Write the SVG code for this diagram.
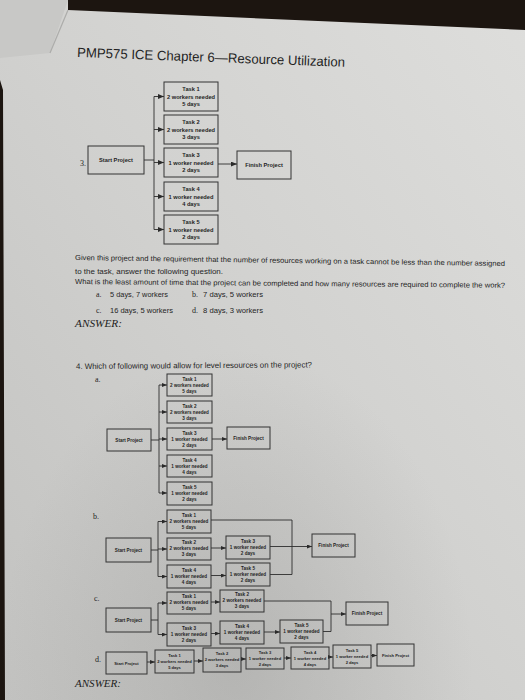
<svg xmlns="http://www.w3.org/2000/svg" width="525" height="700" viewBox="0 0 525 700">
<defs>
  <linearGradient id="paper" x1="1" y1="0" x2="0" y2="1">
    <stop offset="0" stop-color="#dededc"/>
    <stop offset="0.5" stop-color="#d1d1cf"/>
    <stop offset="1" stop-color="#c2c2c0"/>
  </linearGradient>
  <radialGradient id="shade" cx="0.45" cy="0.95" r="0.45">
    <stop offset="0" stop-color="#8e8e8c" stop-opacity="0.35"/>
    <stop offset="1" stop-color="#8e8e8c" stop-opacity="0"/>
  </radialGradient>
  <marker id="arr" viewBox="0 0 10 8" refX="10" refY="4" markerWidth="6" markerHeight="5" markerUnits="userSpaceOnUse" orient="auto">
    <path d="M0,0 L10,4 L0,8 Z" fill="#2a2a2a"/>
  </marker>
  <marker id="arrs" viewBox="0 0 10 8" refX="10" refY="4" markerWidth="5" markerHeight="4" markerUnits="userSpaceOnUse" orient="auto">
    <path d="M0,0 L10,4 L0,8 Z" fill="#2a2a2a"/>
  </marker>
  <style>
    .bx{fill:none;stroke:#333;stroke-width:1}
    .ln{fill:none;stroke:#2e2e2e;stroke-width:0.9}
    .a{marker-end:url(#arr)}
    .as{marker-end:url(#arrs)}
    text{font-family:"Liberation Sans",Arial,sans-serif;fill:#1f1f1f}
    .n6{font-size:5.7px;text-anchor:middle;font-weight:bold}
    .n5{font-size:4.6px;text-anchor:middle;font-weight:bold}
    .n4{font-size:4.1px;text-anchor:middle;font-weight:bold}
    .q{font-size:8px}
    .ql{font-size:7.3px}
    .ser{font-family:"Liberation Serif","Times New Roman",serif}
    .ans{font-family:"Liberation Serif","Times New Roman",serif;font-style:italic;font-size:10px}
  </style>
</defs>

<!-- background photo -->
<rect x="0" y="0" width="525" height="700" fill="#1c1510"/>
<path d="M0,0 L68,0 L68,10 L525,30 L525,700 L5,700 L3,90 L0,80 Z" fill="url(#paper)"/>
<path d="M0,0 L68,0 L50,53 L0,58 Z" fill="#c8c8c6"/>
<path d="M68,10 L50,53" stroke="#acacaa" stroke-width="1.2" fill="none"/>
<rect x="0" y="0" width="525" height="700" fill="url(#shade)"/>

<!-- title -->
<text x="77" y="57" font-size="13.5" textLength="268" lengthAdjust="spacingAndGlyphs" transform="rotate(2.1 77 57)">PMP575 ICE Chapter 6—Resource Utilization</text>

<!-- Question 3 -->
<text x="80" y="166" font-size="8" class="ser">3.</text>

<g id="connectors-q3">
  <path class="ln" d="M144,160 H154"/>
  <path class="ln" d="M154,96.5 V229.5"/>
  <path class="ln a" d="M154,96.5 H164"/>
  <path class="ln a" d="M154,129.5 H164"/>
  <path class="ln a" d="M154,162.5 H164"/>
  <path class="ln a" d="M154,196.5 H164"/>
  <path class="ln a" d="M154,229.5 H164"/>
  <path class="ln a" d="M218,164 H237"/>
</g>
<g id="q3-start"><rect class="bx" x="88" y="146" width="56" height="28"/><text class="n6" x="116" y="162">Start Project</text></g>
<g id="q3-task1"><rect class="bx" x="164" y="82" width="54" height="29"/><text class="n6" x="191" y="91">Task 1</text><text class="n6" x="191" y="98.5">2 workers needed</text><text class="n6" x="191" y="105.5">5 days</text></g>
<g id="q3-task2"><rect class="bx" x="164" y="115" width="54" height="29"/><text class="n6" x="191" y="124">Task 2</text><text class="n6" x="191" y="131.5">2 workers needed</text><text class="n6" x="191" y="138.5">3 days</text></g>
<g id="q3-task3"><rect class="bx" x="164" y="148" width="54" height="29"/><text class="n6" x="191" y="157">Task 3</text><text class="n6" x="191" y="164.5">1 worker needed</text><text class="n6" x="191" y="171.5">2 days</text></g>
<g id="q3-task4"><rect class="bx" x="164" y="182" width="54" height="29"/><text class="n6" x="191" y="191">Task 4</text><text class="n6" x="191" y="198.5">1 worker needed</text><text class="n6" x="191" y="205.5">4 days</text></g>
<g id="q3-task5"><rect class="bx" x="164" y="215" width="54" height="29"/><text class="n6" x="191" y="224">Task 5</text><text class="n6" x="191" y="231.5">1 worker needed</text><text class="n6" x="191" y="238.5">2 days</text></g>
<g id="q3-finish"><rect class="bx" x="237" y="151" width="54" height="28"/><text class="n6" x="264" y="167">Finish Project</text></g>

<text class="ql" x="75" y="260" textLength="430" lengthAdjust="spacingAndGlyphs" transform="rotate(0.8 75 260)">Given this project and the requirement that the number of resources working on a task cannot be less than the number assigned</text>
<text class="q" x="75" y="274" textLength="148" lengthAdjust="spacingAndGlyphs">to the task, answer the following question.</text>
<text class="ql" x="75" y="284" textLength="430" lengthAdjust="spacingAndGlyphs" transform="rotate(0.5 75 284)">What is the least amount of time that the project can be completed and how many resources are required to complete the work?</text>
<text class="q" x="96" y="297"><tspan class="ser">a.</tspan> <tspan x="110" textLength="58" lengthAdjust="spacingAndGlyphs">5 days, 7 workers</tspan></text>
<text class="q" x="192" y="297"><tspan class="ser">b.</tspan> <tspan x="203" textLength="60" lengthAdjust="spacingAndGlyphs">7 days, 5 workers</tspan></text>
<text class="q" x="96" y="313"><tspan class="ser">c.</tspan> <tspan x="110" textLength="63" lengthAdjust="spacingAndGlyphs">16 days, 5 workers</tspan></text>
<text class="q" x="192" y="313"><tspan class="ser">d.</tspan> <tspan x="203" textLength="60" lengthAdjust="spacingAndGlyphs">8 days, 3 workers</tspan></text>
<text class="ans" x="75" y="327" textLength="47" lengthAdjust="spacingAndGlyphs">ANSWER:</text>

<!-- Question 4 -->
<text class="q" x="76" y="369" textLength="236" lengthAdjust="spacingAndGlyphs" transform="rotate(-0.4 76 369)">4. Which of following would allow for level resources on the project?</text>

<!-- option a -->
<text x="95" y="382" font-size="8" class="ser">a.</text>
<g id="connectors-a">
  <path class="ln" d="M151,440 H159"/>
  <path class="ln" d="M159,385 V493"/>
  <path class="ln as" d="M159,385 H167"/>
  <path class="ln as" d="M159,412 H167"/>
  <path class="ln as" d="M159,439 H167"/>
  <path class="ln as" d="M159,466 H167"/>
  <path class="ln as" d="M159,493 H167"/>
  <path class="ln as" d="M212,439 H227"/>
</g>
<g id="a-start"><rect class="bx" x="107" y="429" width="44" height="22"/><text class="n5" x="129" y="441.5">Start Project</text></g>
<g id="a-task1"><rect class="bx" x="167" y="374" width="45" height="22"/><text class="n5" x="189.5" y="380.5">Task 1</text><text class="n5" x="189.5" y="386.5">2 workers needed</text><text class="n5" x="189.5" y="392.5">5 days</text></g>
<g id="a-task2"><rect class="bx" x="167" y="401" width="45" height="22"/><text class="n5" x="189.5" y="407.5">Task 2</text><text class="n5" x="189.5" y="413.5">2 workers needed</text><text class="n5" x="189.5" y="419.5">3 days</text></g>
<g id="a-task3"><rect class="bx" x="167" y="428" width="45" height="22"/><text class="n5" x="189.5" y="434.5">Task 3</text><text class="n5" x="189.5" y="440.5">1 worker needed</text><text class="n5" x="189.5" y="446.5">2 days</text></g>
<g id="a-task4"><rect class="bx" x="167" y="455" width="45" height="22"/><text class="n5" x="189.5" y="461.5">Task 4</text><text class="n5" x="189.5" y="467.5">1 worker needed</text><text class="n5" x="189.5" y="473.5">4 days</text></g>
<g id="a-task5"><rect class="bx" x="167" y="482" width="45" height="23"/><text class="n5" x="189.5" y="488.5">Task 5</text><text class="n5" x="189.5" y="494.5">1 worker needed</text><text class="n5" x="189.5" y="500.5">2 days</text></g>
<g id="a-finish"><rect class="bx" x="227" y="427" width="43" height="22"/><text class="n5" x="248.5" y="439.5">Finish Project</text></g>

<!-- option b -->
<text x="93" y="519" font-size="8" class="ser">b.</text>
<g id="connectors-b">
  <path class="ln" d="M151,550 H158"/>
  <path class="ln" d="M158,521.5 V576.5"/>
  <path class="ln as" d="M158,521.5 H167"/>
  <path class="ln as" d="M158,549 H167"/>
  <path class="ln as" d="M158,576.5 H167"/>
  <path class="ln as" d="M211,548 H226"/>
  <path class="ln as" d="M211,575.5 H226"/>
  <path class="ln" d="M211,520 H292 V574.5 H270"/>
  <path class="ln as" d="M270,546.5 H312"/>
</g>
<g id="b-start"><rect class="bx" x="106" y="538" width="45" height="24"/><text class="n5" x="128.5" y="551.5">Start Project</text></g>
<g id="b-task1"><rect class="bx" x="167" y="510" width="44" height="23"/><text class="n5" x="189" y="516.5">Task 1</text><text class="n5" x="189" y="522.5">2 workers needed</text><text class="n5" x="189" y="528.5">5 days</text></g>
<g id="b-task2"><rect class="bx" x="167" y="538" width="44" height="22"/><text class="n5" x="189" y="544">Task 2</text><text class="n5" x="189" y="550">2 workers needed</text><text class="n5" x="189" y="556">3 days</text></g>
<g id="b-task4"><rect class="bx" x="167" y="565" width="44" height="23"/><text class="n5" x="189" y="571.5">Task 4</text><text class="n5" x="189" y="577.5">1 worker needed</text><text class="n5" x="189" y="583.5">4 days</text></g>
<g id="b-task3"><rect class="bx" x="226" y="536" width="44" height="23"/><text class="n5" x="248" y="542.5">Task 3</text><text class="n5" x="248" y="548.5">1 worker needed</text><text class="n5" x="248" y="554.5">2 days</text></g>
<g id="b-task5"><rect class="bx" x="226" y="563" width="44" height="23"/><text class="n5" x="248" y="569.5">Task 5</text><text class="n5" x="248" y="575.5">1 worker needed</text><text class="n5" x="248" y="581.5">2 days</text></g>
<g id="b-finish"><rect class="bx" x="312" y="534" width="43" height="23"/><text class="n5" x="333.5" y="547">Finish Project</text></g>

<!-- option c -->
<text x="94" y="601" font-size="8" class="ser">c.</text>
<g id="connectors-c">
  <path class="ln" d="M151,620 H158"/>
  <path class="ln" d="M158,603 V634.5"/>
  <path class="ln as" d="M158,603 H167"/>
  <path class="ln as" d="M158,634.5 H167"/>
  <path class="ln as" d="M211,602 H220"/>
  <path class="ln as" d="M211,633.5 H220"/>
  <path class="ln as" d="M264,632 H280"/>
  <path class="ln" d="M264,601 H331 V631.5 H323"/>
  <path class="ln as" d="M331,614 H346"/>
</g>
<g id="c-start"><rect class="bx" x="106" y="608" width="45" height="24"/><text class="n5" x="128.5" y="621.5">Start Project</text></g>
<g id="c-task1"><rect class="bx" x="167" y="592" width="44" height="22"/><text class="n5" x="189" y="598">Task 1</text><text class="n5" x="189" y="604">2 workers needed</text><text class="n5" x="189" y="610">5 days</text></g>
<g id="c-task2"><rect class="bx" x="220" y="590" width="44" height="22"/><text class="n5" x="242" y="596">Task 2</text><text class="n5" x="242" y="602">2 workers needed</text><text class="n5" x="242" y="608">3 days</text></g>
<g id="c-task3"><rect class="bx" x="167" y="623" width="44" height="23"/><text class="n5" x="189" y="629.5">Task 3</text><text class="n5" x="189" y="635.5">1 worker needed</text><text class="n5" x="189" y="641.5">2 days</text></g>
<g id="c-task4"><rect class="bx" x="220" y="621" width="44" height="23"/><text class="n5" x="242" y="627.5">Task 4</text><text class="n5" x="242" y="633.5">1 worker needed</text><text class="n5" x="242" y="639.5">4 days</text></g>
<g id="c-task5"><rect class="bx" x="280" y="620" width="43" height="23"/><text class="n5" x="301.5" y="626.5">Task 5</text><text class="n5" x="301.5" y="632.5">1 worker needed</text><text class="n5" x="301.5" y="638.5">2 days</text></g>
<g id="c-finish"><rect class="bx" x="346" y="602" width="42" height="23"/><text class="n5" x="367" y="615">Finish Project</text></g>

<!-- option d -->
<text x="95" y="662" font-size="8" class="ser">d.</text>
<g id="connectors-d">
  <path class="ln as" d="M147,662 H155"/>
  <path class="ln as" d="M194,661 H203"/>
  <path class="ln as" d="M241,659 H246"/>
  <path class="ln as" d="M284,658 H291"/>
  <path class="ln as" d="M329,657 H333"/>
  <path class="ln as" d="M371,655.5 H377"/>
</g>
<g id="d-start"><rect class="bx" x="106" y="652" width="41" height="22"/><text class="n4" x="126.5" y="664.5">Start Project</text></g>
<g id="d-task1"><rect class="bx" x="155" y="650" width="39" height="23"/><text class="n4" x="174.5" y="656.5">Task 1</text><text class="n4" x="174.5" y="662.5">2 workers needed</text><text class="n4" x="174.5" y="668.5">5 days</text></g>
<g id="d-task2"><rect class="bx" x="203" y="648" width="38" height="24"/><text class="n4" x="222" y="655">Task 2</text><text class="n4" x="222" y="661">2 workers needed</text><text class="n4" x="222" y="667">3 days</text></g>
<g id="d-task3"><rect class="bx" x="246" y="648" width="38" height="21"/><text class="n4" x="265" y="654">Task 3</text><text class="n4" x="265" y="660">1 worker needed</text><text class="n4" x="265" y="666">2 days</text></g>
<g id="d-task4"><rect class="bx" x="291" y="647" width="38" height="22"/><text class="n4" x="310" y="653.5">Task 4</text><text class="n4" x="310" y="659.5">1 worker needed</text><text class="n4" x="310" y="665.5">4 days</text></g>
<g id="d-task5"><rect class="bx" x="333" y="645" width="38" height="23"/><text class="n4" x="352" y="651.5">Task 5</text><text class="n4" x="352" y="657.5">1 worker needed</text><text class="n4" x="352" y="663.5">2 days</text></g>
<g id="d-finish"><rect class="bx" x="377" y="644" width="37" height="22"/><text class="n4" x="395.5" y="656.5">Finish Project</text></g>

<text class="ans" x="75" y="687" textLength="46" lengthAdjust="spacingAndGlyphs">ANSWER:</text>
</svg>
